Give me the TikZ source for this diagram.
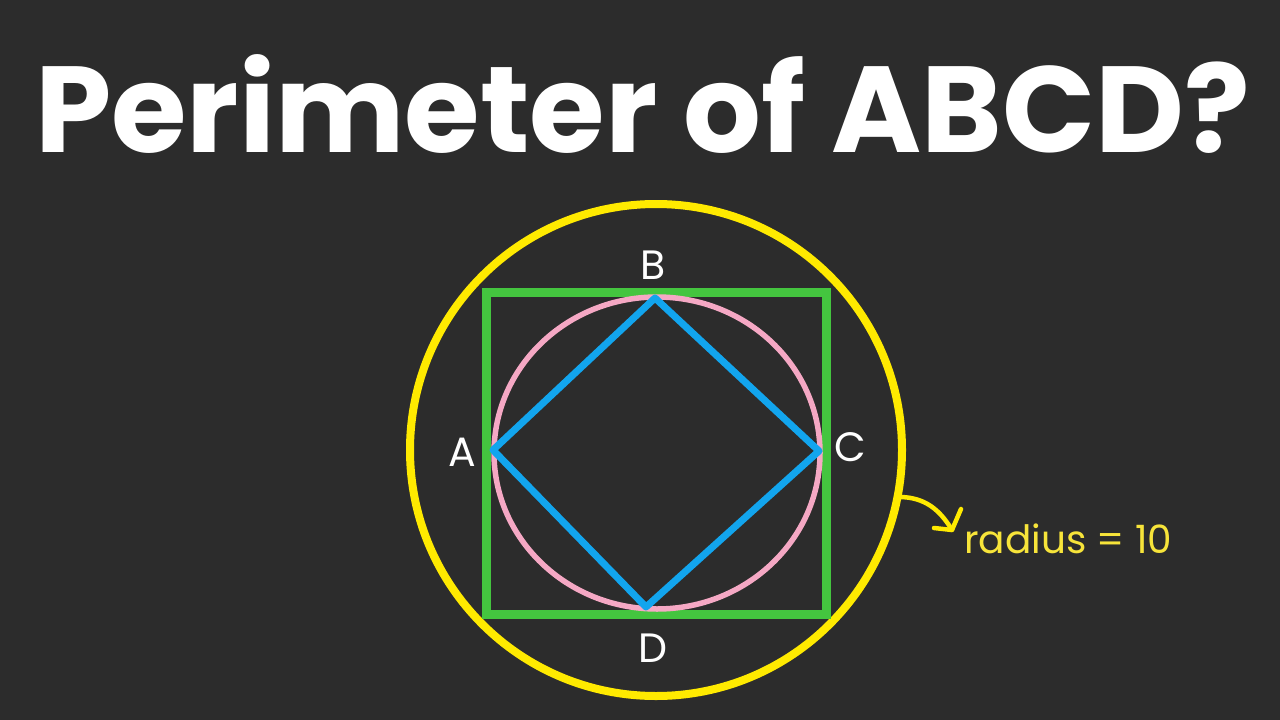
\documentclass[tikz,border=0pt]{standalone}
\usepackage{fontspec}
\setmainfont{Poppins}
\usetikzlibrary{arrows.meta}
\definecolor{board}{HTML}{2C2C2C}
\definecolor{chalkyellow}{HTML}{FFEA00}
\definecolor{chalkgreen}{HTML}{44C53F}
\definecolor{chalkpink}{HTML}{F5A8C4}
\definecolor{chalkblue}{HTML}{12A5EE}
\definecolor{chalkyellowtext}{HTML}{F7E43A}
\tikzset{
  pt/.style={white,font=\fontsize{41}{41}\selectfont},
  titletext/.style={font=\bfseries\fontsize{128}{128}\selectfont,inner sep=0pt,anchor=base west}
}
\begin{document}
\begin{tikzpicture}[x=1pt,y=-1pt]
\fill[board] (0,0) rectangle (1280,720);
\useasboundingbox (0,0) rectangle (1280,720);
% title
\node[titletext,text=white] (title) at (35,152) {\resizebox{1215pt}{!}{Perimeter of ABCD?}};
% shapes
\draw[chalkyellow,line width=8pt] (656,450) circle[radius=246];
\draw[chalkgreen,line width=9pt] (486,292) rectangle (826,614);
\draw[chalkpink,line width=5.5pt] (657,453) ellipse[x radius=163,y radius=156];
\coordinate (A) at (493,450);
\coordinate (B) at (655,298);
\coordinate (C) at (819,451);
\coordinate (D) at (646,607);
\draw[chalkblue,line width=7pt,line join=round] (A) -- (B) -- (C) -- (D) -- cycle;
\node[pt] (lA) at (462,452) {A};
\node[pt] (lB) at (653,265) {B};
\node[pt] (lC) at (850,447) {C};
\node[pt] (lD) at (653,648) {D};
% radius arrow
\coordinate (r0) at (899,497);
\coordinate (r1) at (952,530);
\draw[chalkyellow,line width=4.5pt,line cap=round] (r0) .. controls (925,497) and (940,510) .. (r1);
\draw[chalkyellow,line width=4.5pt,line cap=round,line join=round] (961,509) -- (r1) -- (934,528);
\node[text=chalkyellowtext,font=\fontsize{39}{39}\selectfont,anchor=base west,inner sep=0pt] (rad) at (964,553) {radius = 10};
\end{tikzpicture}
\end{document}
